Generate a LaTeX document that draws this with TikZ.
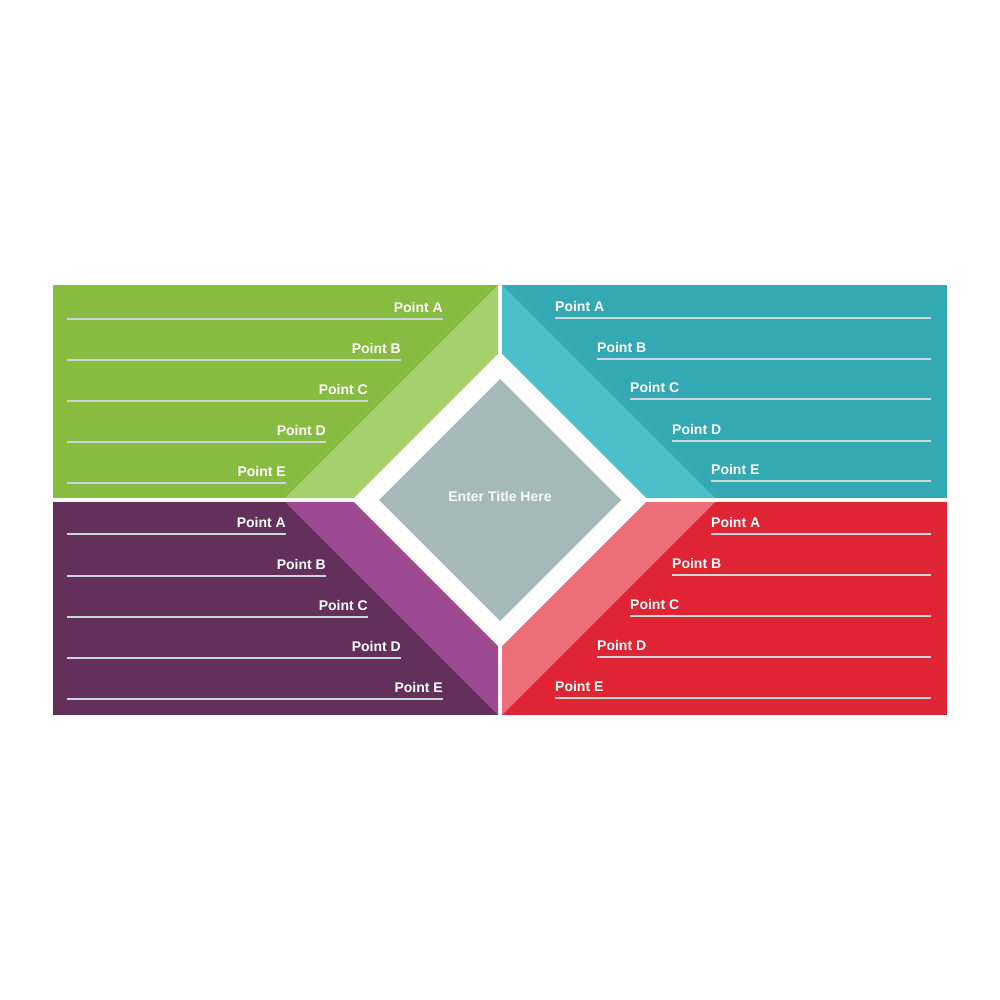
\documentclass[tikz,border=0pt]{standalone}
\usepackage{fontspec}
\setmainfont{Liberation Sans}
\definecolor{gD}{HTML}{88BC40}
\definecolor{gL}{HTML}{A6D06C}
\definecolor{tD}{HTML}{33A9B4}
\definecolor{tL}{HTML}{4AC0CA}
\definecolor{pD}{HTML}{62305A}
\definecolor{pL}{HTML}{9C4A92}
\definecolor{rD}{HTML}{DF2533}
\definecolor{rL}{HTML}{EB6E78}
\definecolor{dG}{HTML}{A5B9BA}
\definecolor{ruleC}{HTML}{CCD6D8}
\begin{document}
\begin{tikzpicture}[x=1pt,y=-1pt,
  ptext/.style={text=white,font=\bfseries\fontsize{14}{16}\selectfont,inner sep=0pt},
  rule/.style={draw=ruleC,line width=1.5pt}]
\useasboundingbox (0,0) rectangle (1000,1000);
\fill[white] (0,0) rectangle (1000,1000);
% panels
\fill[gD] (53,285) rectangle (498,498);
\fill[gL] (498,285) -- (285,498) -- (498,498) -- cycle;
\fill[tD] (502,285) rectangle (947,498);
\fill[tL] (502,285) -- (715,498) -- (502,498) -- cycle;
\fill[pD] (53,502) rectangle (498,715);
\fill[pL] (498,715) -- (285,502) -- (498,502) -- cycle;
\fill[rD] (502,502) rectangle (947,715);
\fill[rL] (502,715) -- (715,502) -- (502,502) -- cycle;
% white frame and centre diamond
\fill[white] (500,352) -- (648,500) -- (500,648) -- (352,500) -- cycle;
\fill[dG] (500,379) -- (621,500) -- (500,621) -- (379,500) -- cycle;
\node[ptext,text=white!93!dG] (title) at (500,496) {Enter Title Here};
% green
\foreach \l/\y/\e in {A/319/443,B/360/401,C/401/368,D/442/326,E/483/286}{
  \draw[rule] (67,\y) -- (\e,\y);
  \node[ptext,anchor=base east] (g\l) at (\e,{\y-7}) {Point \l};
}
% teal
\foreach \l/\y/\s in {A/318/555,B/359/597,C/399/630,D/441/672,E/481/711}{
  \draw[rule] (\s,\y) -- (931,\y);
  \node[ptext,anchor=base west] (t\l) at (\s,{\y-7}) {Point \l};
}
% purple
\foreach \l/\y/\e in {A/534/286,B/576/326,C/617/368,D/658/401,E/699/443}{
  \draw[rule] (67,\y) -- (\e,\y);
  \node[ptext,anchor=base east] (p\l) at (\e,{\y-7}) {Point \l};
}
% red
\foreach \l/\y/\s in {A/534/711,B/575/672,C/616/630,D/657/597,E/698/555}{
  \draw[rule] (\s,\y) -- (931,\y);
  \node[ptext,anchor=base west] (r\l) at (\s,{\y-7}) {Point \l};
}
\end{tikzpicture}
\end{document}
